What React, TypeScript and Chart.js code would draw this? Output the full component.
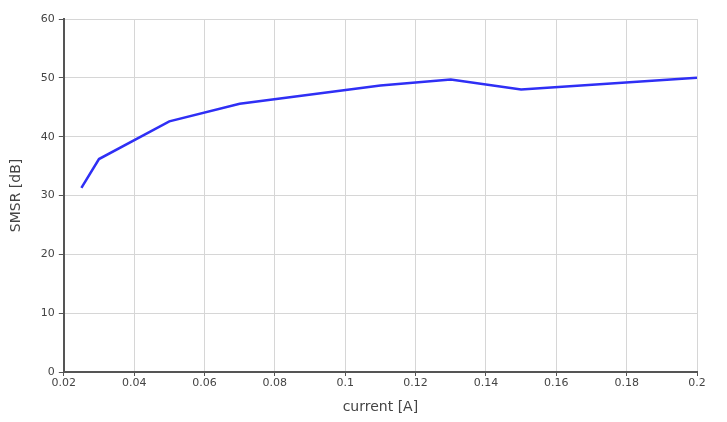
import React, { useEffect, useRef } from "react";
import { Chart, registerables } from "chart.js";

Chart.register(...registerables);

const currentA = [0.025, 0.03, 0.05, 0.07, 0.11, 0.13, 0.15, 0.2];
const smsrDb = [31.3, 36.2, 42.6, 45.6, 48.7, 49.7, 48.0, 50.0];
const xTitle = "current [A]";
const yTitle = "SMSR [dB]";

export default function App() {
  const ref = useRef<HTMLCanvasElement | null>(null);
  useEffect(() => {
    if (!ref.current) return;
    const font = "'DejaVu Sans', sans-serif";
    const chart = new Chart(ref.current, {
      type: "line",
      data: {
        datasets: [
          {
            data: currentA.map((x, i) => ({ x, y: smsrDb[i] })),
            borderColor: "#2f2ff5",
            borderWidth: 2.5,
            pointRadius: 0,
            tension: 0,
            fill: false,
          },
        ],
      },
      options: {
        animation: false,
        responsive: true,
        maintainAspectRatio: false,
        layout: { padding: { top: 19, right: 30, bottom: 6, left: 8 } },
        plugins: { legend: { display: false }, tooltip: { enabled: false } },
        scales: {
          x: {
            type: "linear",
            min: 0.02,
            max: 0.2,
            ticks: {
              stepSize: 0.02,
              color: "#444",
              font: { family: font, size: 11 },
              padding: 1,
              maxRotation: 0,
              callback: (v: any) => Number(Number(v).toFixed(2)).toString(),
            },
            grid: { color: "#d6d6d6", lineWidth: 1, tickColor: "#555", tickLength: 4 },
            border: { color: "#555", width: 2 },
            title: { display: true, text: xTitle, color: "#444", font: { family: font, size: 14 }, padding: { top: 8, bottom: 0 } },
          },
          y: {
            min: 0,
            max: 60,
            ticks: {
              stepSize: 10,
              color: "#444",
              font: { family: font, size: 11 },
              padding: 4,
            },
            grid: { color: "#d6d6d6", lineWidth: 1, tickColor: "#555", tickLength: 5 },
            border: { color: "#555", width: 2 },
            title: { display: true, text: yTitle, color: "#444", font: { family: font, size: 14 }, padding: { top: 0, bottom: 12 } },
          },
        },
      },
    });
    return () => chart.destroy();
  }, []);
  return (
    <div style={{ position: "fixed", left: 0, top: 0, width: 727, height: 422, background: "#fff" }}>
      <canvas ref={ref} />
    </div>
  );
}
